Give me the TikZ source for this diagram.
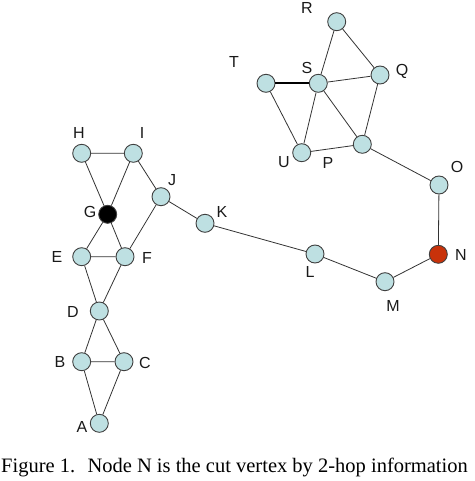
\documentclass[tikz,border=0pt]{standalone}
\usepackage{fontspec}
\setmainfont{Liberation Serif}
\setsansfont{Liberation Sans}
\begin{document}
\begin{tikzpicture}[x=1pt,y=-1pt,
  vtx/.style={circle,draw=black!75,line width=0.9pt,fill=vfill,minimum size=18pt,inner sep=0pt},
  lbl/.style={font=\sffamily\fontsize{16}{16}\selectfont,text=black!90,inner sep=0pt},
  edge/.style={draw=black!80,line width=0.8pt}]
\definecolor{vfill}{RGB}{190,224,226}
\definecolor{nred}{RGB}{200,50,10}
\useasboundingbox (0,0) rectangle (474,481);
% vertices
\node[vtx] (R) at (336.7,21.7) {};
\node[vtx] (S) at (318.3,83.3) {};
\node[vtx] (Q) at (380,75) {};
\node[vtx] (T) at (266,83.3) {};
\node[vtx] (U) at (301.7,152.7) {};
\node[vtx] (P) at (362.3,144.3) {};
\node[vtx] (O) at (439,185) {};
\node[vtx,fill=nred] (N) at (438.3,254.3) {};
\node[vtx] (M) at (385,281.7) {};
\node[vtx] (L) at (315,254) {};
\node[vtx] (K) at (205,223.3) {};
\node[vtx] (J) at (161,196.7) {};
\node[vtx] (H) at (81.7,153.3) {};
\node[vtx] (I) at (133.3,153.3) {};
\node[vtx,fill=black] (G) at (107.7,214.3) {};
\node[vtx] (E) at (81.7,256.7) {};
\node[vtx] (F) at (125,256.7) {};
\node[vtx] (D) at (99.3,311) {};
\node[vtx] (B) at (81.7,361.7) {};
\node[vtx] (C) at (124,361.7) {};
\node[vtx] (A) at (99.3,423.3) {};
% labels
\node[lbl] (lR) at (307,8) {R};
\node[lbl] (lT) at (234,62) {T};
\node[lbl] (lS) at (307,68) {S};
\node[lbl] (lQ) at (402,71) {Q};
\node[lbl] (lU) at (284,162) {U};
\node[lbl] (lP) at (328,163) {P};
\node[lbl] (lO) at (457,167) {O};
\node[lbl] (lN) at (461,255) {N};
\node[lbl] (lM) at (393,306) {M};
\node[lbl] (lL) at (310,272) {L};
\node[lbl] (lK) at (222,212) {K};
\node[lbl] (lJ) at (172,180) {J};
\node[lbl] (lH) at (79,133) {H};
\node[lbl] (lI) at (142,133) {I};
\node[lbl] (lG) at (90,212) {G};
\node[lbl] (lE) at (57,257) {E};
\node[lbl] (lF) at (147,258) {F};
\node[lbl] (lD) at (73,312) {D};
\node[lbl] (lB) at (60,362) {B};
\node[lbl] (lC) at (145,363) {C};
\node[lbl] (lA) at (82,427) {A};
% edges
\path[edge] (R)--(S) (R)--(Q) (S)--(Q) (S)--(U) (S)--(P) (T)--(U) (U)--(P) (Q)--(P) (P)--(O)
  (O)--(N) (N)--(M) (M)--(L) (L)--(K) (K)--(J) (J)--(I) (J)--(F) (H)--(I) (H)--(G) (I)--(G)
  (G)--(E) (G)--(F) (E)--(F) (E)--(D) (F)--(D) (D)--(B) (D)--(C) (B)--(C) (B)--(A) (C)--(A);
\path[edge,line width=1.6pt,draw=black] (T)--(S);
% caption
\node[anchor=base west,inner sep=0pt,font=\fontsize{20.5}{20.5}\selectfont] (cap) at (1,472) {Figure 1.\hspace{0.6em}Node N is the cut vertex by 2-hop information};
\end{tikzpicture}
\end{document}
